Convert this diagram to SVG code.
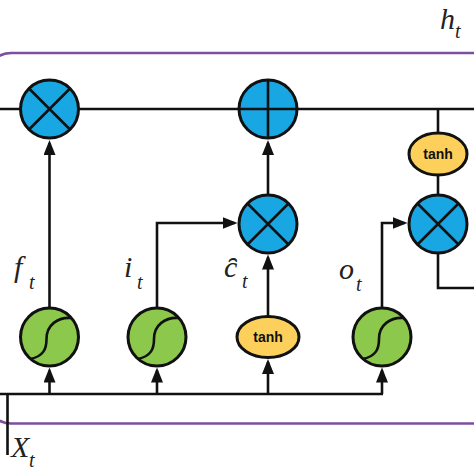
<svg xmlns="http://www.w3.org/2000/svg" width="474" height="474" viewBox="0 0 474 474">
<defs>
<style>
.ln{fill:none;stroke:#111;stroke-width:2.6}
.op{fill:#19a7e3;stroke:#111;stroke-width:3}
.sg{fill:#8cc84b;stroke:#111;stroke-width:3}
.th{fill:#fcd05a;stroke:#111;stroke-width:3}
.in{fill:none;stroke:#111;stroke-width:2.6}
.tt{font-family:"Liberation Sans",Arial,sans-serif;font-weight:bold;font-size:14px;fill:#111;text-anchor:middle}
.lb{font-family:"Liberation Serif","DejaVu Serif",serif;font-style:italic;font-size:30px;fill:#222}
.sb{font-size:20px}
.box{fill:none;stroke:#7d4f9f;stroke-width:2.6}
</style>
<marker id="ah" viewBox="0 0 15 12" refX="12" refY="6" markerWidth="15" markerHeight="12" markerUnits="userSpaceOnUse" orient="auto">
<path d="M0,0 L15,6 L0,12 z" fill="#111"/>
</marker>
<path id="sig" d="M-19,22 C-6,19 -3,12 -3,2 C-3,-12 8,-20 22,-19"/>
</defs>
<rect width="474" height="474" fill="#fff"/>
<rect id="cell-boundary" class="box" x="-14" y="53" width="560" height="370.5" rx="25"/>
<g id="connectors">
<path class="ln" d="M0,109 H474"/>
<path class="ln" d="M0,394 H383"/>
<path class="ln" d="M7.5,394 V455"/>
<path class="ln" d="M49.5,307 V143" marker-end="url(#ah)"/>
<path class="ln" d="M268,195 V143" marker-end="url(#ah)"/>
<path class="ln" d="M157,307 V223 H234.5" marker-end="url(#ah)"/>
<path class="ln" d="M268,316 V257.5" marker-end="url(#ah)"/>
<path class="ln" d="M382,307 V223 H404.5" marker-end="url(#ah)"/>
<path class="ln" d="M49.5,394 V370.5" marker-end="url(#ah)"/>
<path class="ln" d="M157,394 V370.5" marker-end="url(#ah)"/>
<path class="ln" d="M268,394 V362" marker-end="url(#ah)"/>
<path class="ln" d="M382,394 V370.5" marker-end="url(#ah)"/>
<path class="ln" d="M438,109 V133"/>
<path class="ln" d="M438,175 V195"/>
<path class="ln" d="M438,253 V288 H474"/>
</g>
<g id="forget-mult">
<circle class="op" cx="49.5" cy="109" r="29"/>
<path class="in" d="M29,88.5 L70,129.5 M70,88.5 L29,129.5"/>
</g>
<g id="cell-add">
<circle class="op" cx="268" cy="109" r="29"/>
<path class="in" d="M239,109 H297 M268,80 V138"/>
</g>
<g id="input-mult">
<circle class="op" cx="268" cy="224" r="29"/>
<path class="in" d="M247.5,203.5 L288.5,244.5 M288.5,203.5 L247.5,244.5"/>
</g>
<g id="output-mult">
<circle class="op" cx="438" cy="224" r="29"/>
<path class="in" d="M417.5,203.5 L458.5,244.5 M458.5,203.5 L417.5,244.5"/>
</g>
<g id="tanh-out">
<ellipse class="th" cx="438" cy="154" rx="29" ry="21"/>
<text class="tt" x="438" y="159">tanh</text>
</g>
<g id="tanh-cand">
<ellipse class="th" cx="268" cy="337" rx="31" ry="20.5"/>
<text class="tt" x="268" y="342">tanh</text>
</g>
<g id="sigma-f">
<circle class="sg" cx="49.5" cy="337" r="29"/>
<use href="#sig" class="in" transform="translate(49.5,337)"/>
</g>
<g id="sigma-i">
<circle class="sg" cx="157" cy="337" r="29"/>
<use href="#sig" class="in" transform="translate(157,337)"/>
</g>
<g id="sigma-o">
<circle class="sg" cx="382" cy="337" r="29"/>
<use href="#sig" class="in" transform="translate(382,337)"/>
</g>
<g id="labels">
<text class="lb"><tspan x="14" y="277">f</tspan><tspan class="sb" x="29" y="289">t</tspan></text>
<text class="lb"><tspan x="124" y="277">i</tspan><tspan class="sb" x="137" y="289">t</tspan></text>
<text class="lb"><tspan x="224" y="277">c&#x311;</tspan><tspan class="sb" x="242" y="288">t</tspan></text>
<text class="lb"><tspan x="339" y="279">o</tspan><tspan class="sb" x="356" y="291">t</tspan></text>
<text class="lb"><tspan x="440" y="29">h</tspan><tspan class="sb" x="455" y="38">t</tspan></text>
<text class="lb"><tspan x="11" y="457">X</tspan><tspan class="sb" x="29" y="467">t</tspan></text>
</g>
</svg>
